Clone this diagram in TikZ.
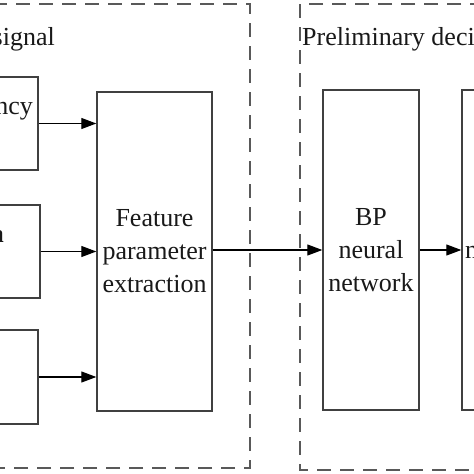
\documentclass[tikz,border=0pt]{standalone}
\usepackage{fontspec}
\setmainfont{Liberation Serif}
\usetikzlibrary{arrows.meta}

\begin{document}
\begin{tikzpicture}[x=1pt,y=-1pt,
    block/.style={draw=black!75,line width=1.4pt,inner sep=0pt,align=center,
      font=\fontsize{26}{33}\selectfont},
    txt/.style={inner sep=0pt,text=black!90,font=\fontsize{26}{33}\selectfont},
    frame/.style={draw=black!65,dash pattern=on 14pt off 9pt,line width=1.6pt},
    link/.style={-{Triangle[length=15pt,width=11pt]},line width=1.2pt}]
  \useasboundingbox (0,0) rectangle (474,474);
  \clip (0,0) rectangle (474,474);
  % dashed groups
  \draw[frame] (-30,4) -- (250,4) -- (250,468) -- (-30,468);
  \draw[frame] (530,4) -- (300,4) -- (300,470) -- (530,470);
  \node[txt,anchor=base east] (lsig) at (55,45) {signal};
  \node[txt,anchor=base west] (lpre) at (302,45) {Preliminary decision};
  % input blocks
  \node[block,minimum width=98pt,minimum height=93pt] (freq) at (-11,123.5) {};
  \node[block,minimum width=100pt,minimum height=93pt] (mid) at (-10,251.5) {};
  \node[block,minimum width=98pt,minimum height=94pt] (low) at (-11,377) {};
  \node[txt,anchor=base east] at (33,114) {frequency};
  \node[txt,anchor=base east] at (4,242) {\textbf{a}};
  % processing blocks
  \node[block,text=black!90,minimum width=115pt,minimum height=319pt] (feat) at (154.5,251.5)
    {Feature\\parameter\\extraction};
  \node[block,text=black!90,minimum width=96pt,minimum height=320pt] (bp) at (371,250)
    {BP\\neural\\network};
  \node[block,minimum width=100pt,minimum height=320pt] (nxt) at (512,250) {};
  \node[txt,anchor=base west] at (465,258) {n};
  % connectors
  \draw[link] (freq.east) -- (freq.east -| feat.west);
  \draw[link] (mid.east) -- (mid.east -| feat.west);
  \draw[link] (low.east) -- (low.east -| feat.west);
  \draw[link] (feat.east |- bp.west) -- (bp.west);
  \draw[link] (bp.east) -- (nxt.west);
\end{tikzpicture}
\end{document}
